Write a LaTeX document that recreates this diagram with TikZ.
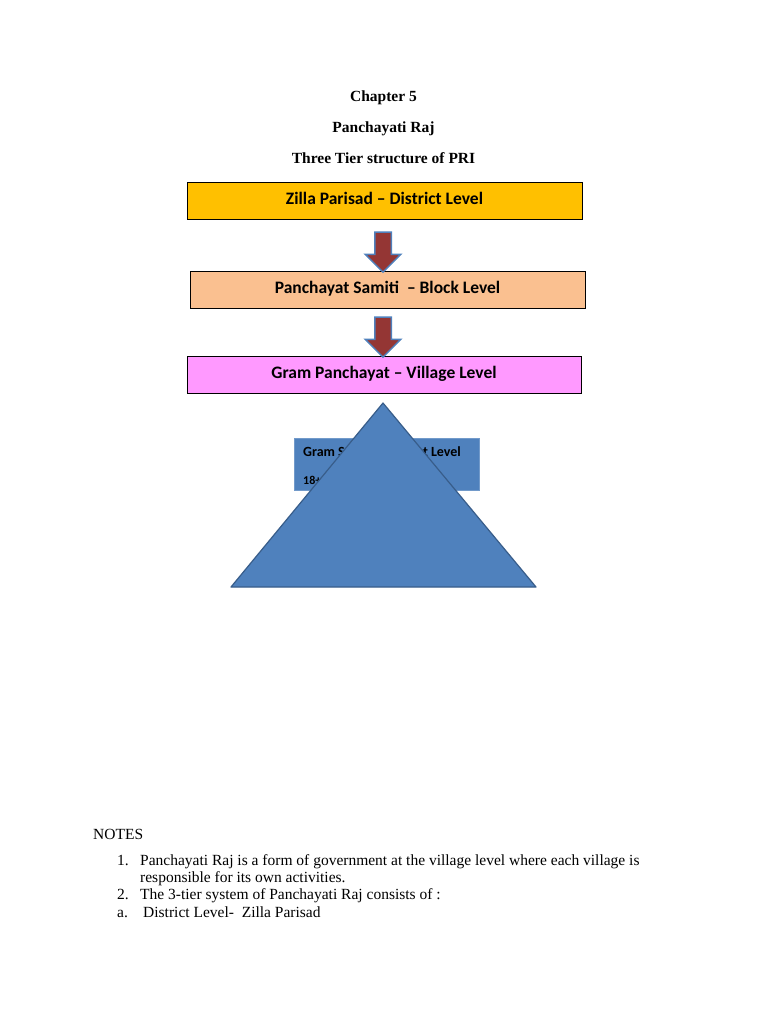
\documentclass[tikz,border=0pt]{standalone}
\usepackage{fontspec}
\setmainfont{Liberation Serif}
\newfontfamily\boxfont{Carlito}
\usetikzlibrary{shapes.arrows, shapes.geometric, positioning}
\definecolor{zillacol}{HTML}{FFC000}
\definecolor{samiticol}{HTML}{FAC090}
\definecolor{gramcol}{HTML}{FF99FF}
\definecolor{sabhacol}{HTML}{4F81BD}
\definecolor{sabhaline}{HTML}{385D8A}
\definecolor{arrowfill}{HTML}{943634}
\definecolor{arrowline}{HTML}{4F81BD}
\tikzset{
  level/.style={rectangle, draw=black, line width=0.8pt, minimum width=395pt, minimum height=37pt, inner sep=0pt, font=\boxfont\bfseries\fontsize{17.5}{20}\selectfont},
  downarrow/.style={single arrow, draw=arrowline, fill=arrowfill, line width=1.5pt, shape border rotate=270, minimum height=40pt, minimum width=34pt, inner xsep=7.5pt, inner ysep=0pt, single arrow head extend=9.5pt},
  title/.style={anchor=base, inner sep=0pt, font=\bfseries\fontsize{15.5}{18}\selectfont},
  note/.style={anchor=base west, inner sep=0pt, font=\fontsize{15.5}{18}\selectfont}
}
\begin{document}
\begin{tikzpicture}[x=1pt, y=-1pt]
\useasboundingbox[fill=white] (0,0) rectangle (768,1024);
% headings
\node (chap) [title] at (383.5,101.5) {Chapter 5};
\node (raj) [title] at (383.5,133) {Panchayati Raj};
\node (tier) [title] at (383.5,163.5) {Three Tier structure of PRI};
% the three levels
\node (zilla) [level, fill=zillacol] at (384.5,200.5) {\raisebox{4pt}{Zilla Parisad – District Level}};
\node (samiti) [level, fill=samiticol] at (387.5,289.5) {\raisebox{4pt}{Panchayat Samiti \ – Block Level}};
\node (gram) [level, fill=gramcol, minimum width=394pt] at (384,374.5) {\raisebox{4pt}{Gram Panchayat – Village Level}};
\node (arr1) [downarrow] at (383,248) {};
\node (arr2) [downarrow] at (383,333) {};
% gram sabha box under the pyramid
\node (sabha) [rectangle, fill=sabhacol, draw=sabhacol!80!white, minimum width=185pt, minimum height=52pt] at (386.5,464) {};
\node (sabhatxt) [anchor=base west, inner sep=0pt, font=\boxfont\bfseries\fontsize{14}{16}\selectfont] at (303,456) {Gram Sabha – Lowest Level};
\node (age) [anchor=base west, inner sep=0pt, font=\boxfont\bfseries\fontsize{12}{14}\selectfont] at (303,484) {18+ voters};
\coordinate (apex) at (383,403);
\coordinate (baseL) at (231,587);
\coordinate (baseR) at (536,587);
\filldraw[fill=sabhacol, draw=sabhaline, line width=1.2pt, line join=round] (apex) -- (baseR) -- (baseL) -- cycle;
% notes
\node (notes) [note] at (93,839) {NOTES};
\node (n1) [note] at (117,865) {1.};
\node (n1a) [note] at (140,865) {Panchayati Raj is a form of government at the village level where each village is};
\node (n1b) [note] at (140,882) {responsible for its own activities.};
\node (n2) [note] at (117,899) {2.};
\node (n2a) [note] at (140,899) {The 3-tier system of Panchayati Raj consists of :};
\node (na) [note] at (117,917) {a.};
\node (naa) [note] at (143,917) {District Level-\ \ Zilla Parisad};
\end{tikzpicture}
\end{document}
